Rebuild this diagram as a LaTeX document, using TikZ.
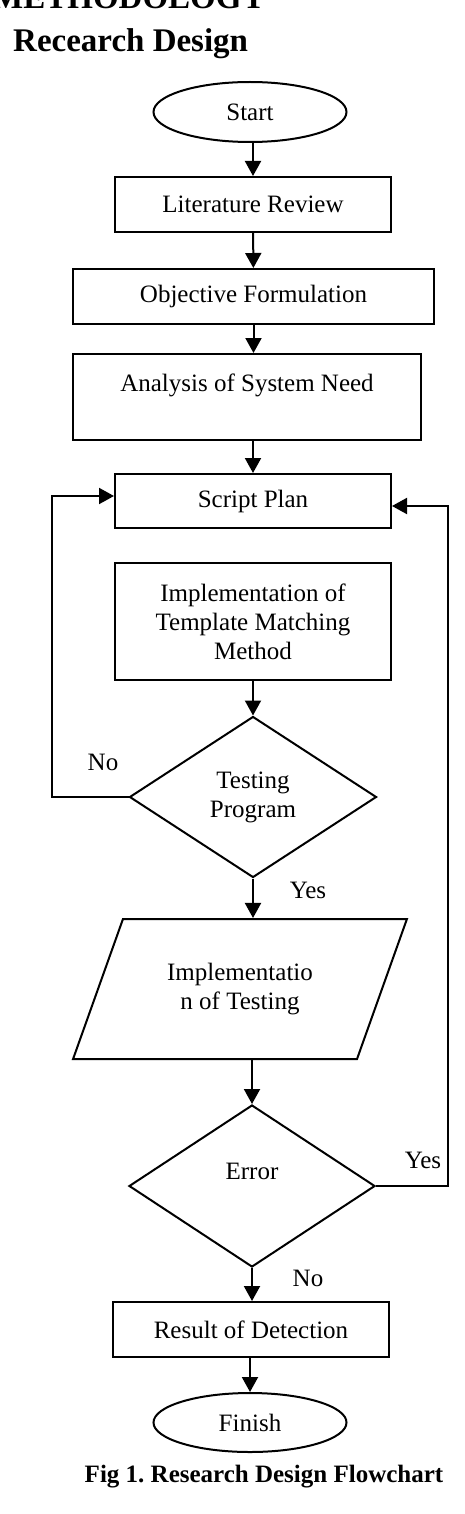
\documentclass[tikz,border=0pt]{standalone}
\usepackage{fontspec}
\setmainfont{Liberation Serif}
\usetikzlibrary{arrows.meta,shapes.geometric}
\frenchspacing
\tikzset{
    >={Triangle[width=16pt,length=15pt]},
    boks/.style={
           rectangle,
           draw=black, line width=2pt,
           minimum height=55pt,
           minimum width=276pt,
           inner sep=0pt,
           align=center},
    oval/.style={
           ellipse,
           draw=black, line width=2pt,
           minimum width=193pt,
           minimum height=60pt,
           inner sep=0pt},
    valg/.style={
           diamond,
           draw=black, line width=2pt,
           minimum width=247pt,
           minimum height=161pt,
           inner sep=0pt,
           align=center},
    skjev/.style={
           trapezium,
           trapezium left angle=59,
           trapezium right angle=121,
           trapezium stretches=true,
           draw=black, line width=2pt,
           minimum width=334pt,
           minimum height=140pt,
           inner sep=0pt,
           align=center},
    pil/.style={
           ->,
           line width=2pt},
    merke/.style={
           inner sep=0pt}
}

\begin{document}
\begin{tikzpicture}[x=1pt,y=-1pt]
          \useasboundingbox (0,0) rectangle (464,1514);
          \fontsize{25pt}{29pt}\selectfont
          % headings
          \node[merke, anchor=base west, font=\fontsize{33pt}{38pt}\selectfont\bfseries] (kap) at (-8,9) {METHODOLOGY};
          \node[merke, anchor=base west, font=\fontsize{33pt}{38pt}\selectfont\bfseries] (under) at (13,52) {Recearch Design};
          % flow
          \node[oval] (start) at (250,112) {Start};
          \node[boks] (litt) at (253,204.5) {Literature Review};
          \node[boks, minimum width=361pt] (maal) at (253.5,296.5) {Objective Formulation};
          \node[boks, minimum width=348pt, minimum height=86pt] (behov) at (247,397) {Analysis of System Need\\~};
          \node[boks, minimum height=54pt] (plan) at (253,501) {Script Plan};
          \node[boks, minimum height=117pt] (mal) at (253,621.5) {Implementation of\\Template Matching\\Method};
          \node[valg] (test) at (253,797) {Testing\\Program};
          \node[skjev] (utfor) at (240,989) {Implementatio\\n of Testing};
          \node[valg, minimum width=246pt, minimum height=162pt] (feil) at (252,1186) {Error\\~};
          \node[boks] (res) at (251,1329.5) {Result of Detection};
          \node[oval, minimum height=59pt] (slutt) at (250,1422.5) {Finish};
          % caption
          \node[merke, font=\fontsize{25pt}{29pt}\selectfont\bfseries] (fig) at (264,1477) {Fig 1. Research Design Flowchart};
          % arrows
          \draw[pil] (start.south -| litt.north) -- (litt.north);
          \draw[pil] (litt) -- (maal);
          \draw[pil] (maal.south) -- (maal.south |- behov.north);
          \draw[pil] (behov.south -| plan.north) -- (plan.north);
          \draw[pil] (mal) -- (test);
          \draw[pil] (test.south) -- (test.south |- utfor.north);
          \draw[pil] (utfor.south -| feil.north) -- (feil.north);
          \draw[pil] (feil.south) -- (feil.south |- res.north);
          \draw[pil] (res.south -| slutt.north) -- (slutt.north);
          % loops back to the plan
          \draw[pil] (test.west) -- ++(-77,0) |- ([yshift=5pt]plan.west);
          \draw[pil] (feil.east) -- ++(72,0) |- ([yshift=-5pt]plan.east);
          % branch labels
          \node[merke] (nei1) at (103,762) {No};
          \node[merke] (ja1) at (308,890) {Yes};
          \node[merke] (ja2) at (423,1160) {Yes};
          \node[merke] (nei2) at (308,1278) {No};
\end{tikzpicture}
\end{document}
